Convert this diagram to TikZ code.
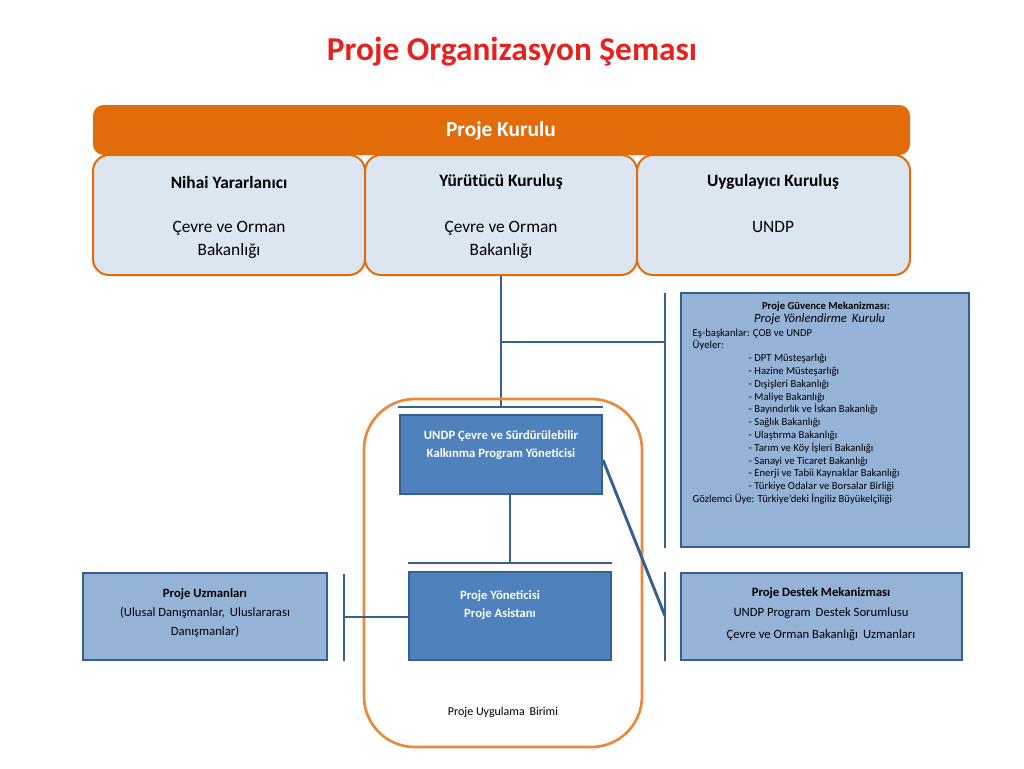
\documentclass[tikz,border=0pt]{standalone}
\usepackage{fontspec}
\setmainfont{Carlito}
\begin{document}
\begin{tikzpicture}[x=0.75pt,y=-0.75pt,
  hdr/.style={font=\fontsize{13}{15}\selectfont\bfseries},
  bod/.style={font=\fontsize{13}{17}\selectfont,align=center},
  bl/.style={draw=lineblue,line width=2.2pt},
  dbox/.style={draw=lineblue,line width=2pt,fill=midblue},
  lbox/.style={draw=lineblue,line width=2pt,fill=lightblue}]
\definecolor{orng}{HTML}{E36C0A}
\definecolor{pale}{HTML}{DCE6F1}
\definecolor{lineblue}{HTML}{376092}
\definecolor{midblue}{HTML}{4F81BD}
\definecolor{lightblue}{HTML}{95B3D7}
\definecolor{ttl}{HTML}{E8211F}
\useasboundingbox (0,0) rectangle (1024,768);
\node[text=ttl,font=\fontsize{25}{30}\selectfont\bfseries] (title) at (512,52) {Proje Organizasyon Şeması};
% top board
\fill[orng,rounded corners=8] (93,155) -- (93,105) -- (910,105) -- (910,155) -- cycle;
\node[white,font=\fontsize{16}{19}\selectfont\bfseries] (pk) at (501,131) {Proje Kurulu};
\foreach \a/\b/\n in {93/365/c1,365/637/c2,637/910/c3}{
  \draw[orng,line width=1.5pt,fill=pale,rounded corners=12] (\a,155) -- (\a,275) -- (\b,275) -- (\b,155) -- cycle;
  \coordinate (\n) at ({(\a+\b)/2},215);
}
\node[hdr] (h1) at (229,182) {Nihai Yararlanıcı};
\node[hdr] (h2) at (501,182) {Yürütücü Kuruluş};
\node[hdr] (h3) at (773,182) {Uygulayıcı Kuruluş};
\node[bod] (b1) at (229,240) {Çevre ve Orman\\Bakanlığı};
\node[bod] (b2) at (501,240) {Çevre ve Orman\\Bakanlığı};
\node[bod,anchor=north] (b3) at (773,217) {UNDP};
% connectors
\coordinate (t1) at (501,276);
\coordinate (t2) at (501,407);
\coordinate (br) at (501,342);
\coordinate (brr) at (665,342);
\draw[bl] (t1) -- (t2);
\draw[bl] (br) -- (brr);
\draw[bl] (665,293) -- (665,548);
% right box 1
\draw[lbox] (681,293) rectangle (969,547);
\node[font=\fontsize{8}{9.6}\selectfont,align=left,anchor=north west] (rb1) at (688,297) {%
\hspace*{52pt}\textbf{Proje Güvence Mekanizması:}\\
\hspace*{46pt}{\fontsize{9.5}{10}\selectfont\itshape Proje Yönlendirme\, Kurulu}\\[1pt]
Eş-başkanlar: ÇOB ve UNDP\\
Üyeler:\\
\hspace*{42pt}- DPT Müsteşarlığı\\
\hspace*{42pt}- Hazine Müsteşarlığı\\
\hspace*{42pt}- Dışişleri Bakanlığı\\
\hspace*{42pt}- Maliye Bakanlığı\\
\hspace*{42pt}- Bayındırlık ve İskan Bakanlığı\\
\hspace*{42pt}- Sağlık Bakanlığı\\
\hspace*{42pt}- Ulaştırma Bakanlığı\\
\hspace*{42pt}- Tarım ve Köy İşleri Bakanlığı\\
\hspace*{42pt}- Sanayi ve Ticaret Bakanlığı\\
\hspace*{42pt}- Enerji ve Tabii Kaynaklar Bakanlığı\\
\hspace*{42pt}- Türkiye Odalar ve Borsalar Birliği\\
Gözlemci Üye: Türkiye'deki İngiliz Büyükelçiliği};
% orange unit
\draw[orng!80,line width=2pt,rounded corners=38] (364,399) rectangle (642,747);
\node[font=\fontsize{9}{11}\selectfont] (pub) at (503,712) {Proje Uygulama\, Birimi};
% UNDP box
\draw[bl] (398,407) -- (603,407);
\draw[dbox] (400,415) rectangle (602,494);
\node[white,font=\fontsize{9.5}{14}\selectfont\bfseries,align=center] (undp) at (501,445) {UNDP Çevre ve Sürdürülebilir\\Kalkınma Program Yöneticisi};
\coordinate (u1) at (510,495);
\coordinate (u2) at (510,562);
\draw[bl] (u1) -- (u2);
\draw[bl] (408,563) -- (612,563);
\draw[dbox] (409,572) rectangle (611,660);
\node[white,font=\fontsize{9.5}{14}\selectfont\bfseries,align=center] (py) at (500,605) {Proje Yöneticisi\\Proje Asistanı};
% left box
\draw[lbox] (83,573) rectangle (327,660);
\node[font=\fontsize{9.5}{14}\selectfont,align=center] (uz) at (205,613) {\textbf{Proje Uzmanları}\\(Ulusal Danışmanlar,\, Uluslararası\\Danışmanlar)};
\draw[bl] (344,574) -- (344,661);
\coordinate (l1) at (344,617);
\coordinate (l2) at (408,617);
\draw[bl] (l1) -- (l2);
% diagonal
\coordinate (d1) at (603,460);
\coordinate (d2) at (665,616);
\draw[bl] (d1) -- (d2);
\draw[bl] (665,572) -- (665,661);
% right box 2
\draw[lbox] (681,573) rectangle (962,660);
\node[font=\fontsize{9.5}{14}\selectfont,align=center] (pd) at (821,614) {\textbf{Proje Destek Mekanizması}\\[1pt]UNDP Program\, Destek Sorumlusu\\[3pt]Çevre ve Orman Bakanlığı\, Uzmanları};
\end{tikzpicture}
\end{document}
